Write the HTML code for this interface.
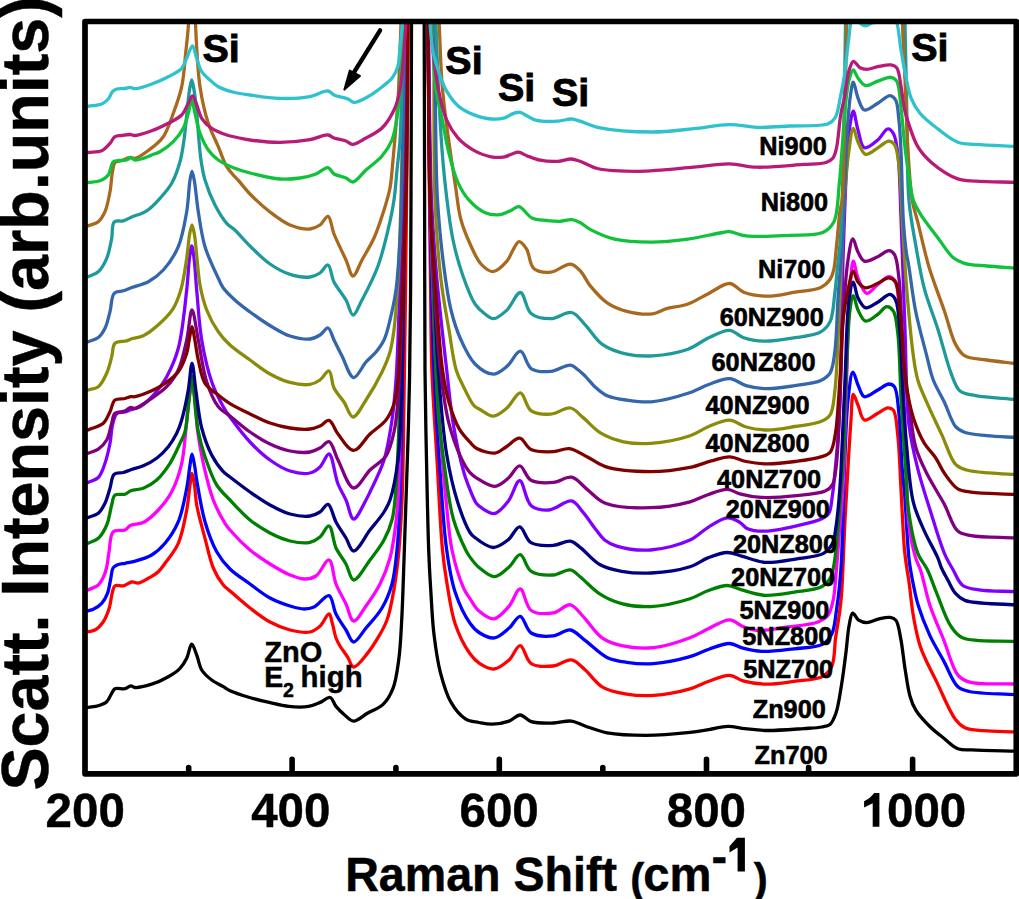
<!DOCTYPE html><html><head><meta charset="utf-8"><style>html,body{margin:0;padding:0;background:#fff;overflow:hidden}svg{display:block}text{stroke:#000;stroke-width:0.45px}</style></head><body>
<svg width="1019" height="899" viewBox="0 0 1019 899">
<rect width="1019" height="899" fill="#fff"/>
<defs><clipPath id="pc"><rect x="85" y="21.5" width="931" height="752"/></clipPath></defs>
<g clip-path="url(#pc)" fill="none" stroke-width="3.3" stroke-linejoin="round" stroke-linecap="round">
<path stroke="#000000" d="M88.0,707.5C91.4,706.9 95.1,706.8 98.3,705.8C101.3,704.8 104.5,703.7 106.7,701.7C109.0,699.6 110.2,695.7 111.7,693.3C112.9,691.5 113.3,689.6 115.0,688.7C117.3,687.5 122.2,689.4 125.0,688.7C127.3,688.2 129.0,685.9 130.8,685.8C132.3,685.7 133.1,687.3 135.0,687.5C138.7,687.9 146.2,685.9 151.7,684.2C157.3,682.4 163.4,679.5 168.3,676.7C172.7,674.2 176.9,671.5 180.0,668.3C182.9,665.3 184.8,662.1 186.7,658.3C188.8,654.1 189.9,644.3 191.7,644.2C193.3,644.1 195.1,651.1 196.7,655.0C198.5,659.5 199.1,665.8 201.7,670.0C204.2,674.0 208.0,677.2 211.7,680.0C215.3,682.7 220.0,684.7 223.3,686.7C225.8,688.2 227.1,689.3 230.0,690.7C234.7,692.9 243.0,695.5 249.6,697.5C256.1,699.4 262.7,700.9 269.3,702.4C275.8,703.9 282.3,705.7 288.9,706.4C295.4,707.1 302.9,707.3 308.5,706.4C313.0,705.7 316.6,703.9 320.3,702.4C323.8,701.0 327.5,696.8 330.1,697.5C332.7,698.2 333.7,703.6 336.0,706.4C338.3,709.2 340.9,711.8 343.8,714.2C346.8,716.7 350.0,720.9 353.6,721.1C357.8,721.3 362.6,715.9 367.4,713.2C372.5,710.3 378.9,708.4 383.1,704.4C387.4,700.3 390.4,695.0 392.9,688.7C396.1,680.7 397.4,669.9 398.8,659.3C400.5,647.2 400.9,634.5 401.7,620.0C402.7,602.1 403.3,580.0 404.0,560.0C404.7,540.0 405.3,520.0 406.0,500.0C406.7,480.0 407.4,460.0 408.0,440.0C408.6,420.0 409.1,401.4 409.5,380.0C410.0,355.2 410.3,328.2 410.5,300.0C410.8,268.5 410.9,238.0 411.0,200.0C411.2,149.6 411.4,59.8 411.5,24.0C411.5,8.3 411.5,1.3 411.5,-10.0M424.0,-10.0C424.1,1.3 424.1,8.3 424.2,24.0C424.3,59.8 424.5,141.8 424.6,200.0C424.7,257.2 424.5,322.3 425.0,370.0C425.3,404.7 425.9,430.0 426.5,460.0C427.1,490.0 427.8,525.6 428.7,550.0C429.3,566.7 430.0,578.2 430.9,592.3C431.8,606.4 432.3,620.9 434.0,634.6C435.6,647.6 437.4,660.8 440.4,672.6C443.2,683.2 446.1,694.1 450.9,702.2C454.9,709.1 460.4,715.8 465.7,719.1C469.9,721.7 474.6,721.6 479.0,722.5C483.3,723.3 487.4,724.3 492.0,724.2C497.3,724.1 504.1,722.9 509.1,721.1C513.3,719.6 516.5,714.9 520.2,715.0C523.9,715.1 526.7,720.2 531.2,721.6C537.1,723.4 546.2,723.1 553.2,723.0C559.6,722.9 565.9,720.4 571.5,721.1C576.4,721.7 579.9,724.3 585.0,726.0C591.4,728.2 598.5,731.2 607.0,732.8C618.1,734.8 632.8,735.3 646.2,735.3C660.4,735.3 678.4,733.6 690.0,732.4C697.6,731.6 702.6,730.6 708.9,729.6C715.2,728.6 721.7,726.4 727.8,726.3C733.6,726.2 738.8,727.9 744.8,728.6C751.4,729.3 757.6,730.3 765.6,730.5C776.3,730.7 793.1,729.3 803.5,728.6C810.8,728.1 817.1,728.0 822.0,727.0C825.3,726.4 827.8,726.3 830.0,724.5C832.7,722.2 834.3,717.8 836.0,713.0C838.5,705.8 839.9,694.7 841.5,685.0C843.2,674.5 844.7,662.5 846.0,652.0C847.2,642.6 847.7,632.1 849.2,625.0C850.2,620.2 850.9,613.6 852.7,613.2C854.2,612.9 856.2,618.6 858.6,620.2C860.9,621.7 863.8,622.6 866.7,622.6C870.2,622.6 874.5,620.0 878.4,619.1C882.3,618.2 886.9,616.9 890.1,617.4C892.4,617.8 894.3,618.3 895.9,620.2C898.5,623.4 899.2,631.0 900.6,637.8C902.5,647.0 903.6,660.3 905.3,670.5C906.8,679.6 907.9,689.0 910.0,696.2C911.6,701.7 913.0,705.6 915.8,710.2C919.2,715.7 924.9,721.7 929.8,726.5C934.3,730.9 939.1,734.5 943.8,738.2C948.4,741.9 952.9,746.8 957.9,748.7C962.3,750.4 965.9,749.6 971.9,749.9C982.5,750.5 1001.3,750.8 1016.0,751.2"/>
<path stroke="#FF0000" d="M88.0,631.7C90.3,631.1 92.7,631.3 95.0,630.0C97.9,628.4 101.0,625.0 103.3,621.7C105.9,618.0 107.7,613.1 109.2,608.3C110.8,603.1 111.2,595.8 112.5,591.7C113.3,589.2 113.4,586.8 115.0,585.8C116.8,584.6 120.6,586.4 123.3,585.8C126.2,585.2 129.0,582.4 131.7,582.0C134.0,581.7 135.9,583.3 138.3,583.0C141.4,582.6 145.0,580.1 148.3,578.3C151.7,576.4 155.5,574.3 158.3,571.7C161.0,569.2 162.5,566.8 165.0,563.3C168.8,558.1 174.8,551.2 178.3,543.3C182.5,533.9 184.7,520.4 186.7,510.0C188.4,501.1 189.0,491.8 190.0,485.0C190.7,480.4 191.3,473.3 192.0,473.3C192.8,473.3 193.8,480.6 194.5,485.0C195.4,490.8 195.4,497.5 196.7,505.0C198.4,514.7 202.2,527.5 205.0,538.3C207.7,548.5 209.8,559.7 213.3,568.0C216.1,574.7 220.0,580.9 223.3,585.0C225.5,587.7 227.2,588.5 230.0,591.0C234.9,595.2 243.2,602.8 250.0,608.0C256.6,613.1 263.1,618.3 270.0,622.0C276.5,625.5 283.2,628.3 290.0,630.0C296.6,631.6 304.6,633.2 310.0,632.0C314.2,631.1 317.3,628.7 320.3,625.9C323.7,622.8 326.9,613.7 329.0,614.0C330.8,614.3 331.4,620.4 332.5,624.0C333.8,628.2 334.5,634.0 336.0,638.0C337.2,641.1 338.3,643.2 340.0,646.0C342.1,649.5 345.4,653.6 347.8,657.3C349.9,660.6 351.0,666.7 353.6,667.0C357.0,667.4 363.2,658.5 367.4,653.4C371.8,648.1 375.8,641.5 379.2,635.7C382.3,630.4 384.9,625.7 387.0,620.0C389.3,613.8 390.4,607.9 392.0,600.0C394.2,589.0 396.4,574.7 398.0,560.0C399.9,542.1 401.0,522.6 402.0,500.0C403.3,470.9 403.4,436.7 404.0,400.0C404.7,355.1 405.4,300.0 406.0,250.0C406.6,200.0 407.2,141.6 407.5,100.0C407.7,70.4 407.8,44.3 408.0,24.0C408.1,10.4 408.3,1.3 408.5,-10.0M427.5,-10.0C427.7,1.3 427.8,8.3 428.0,24.0C428.4,59.8 429.0,152.8 429.5,200.0C429.8,231.9 430.1,252.5 430.5,280.0C430.9,309.1 430.8,340.0 431.9,370.0C433.0,400.0 435.2,430.0 437.0,460.0C438.8,490.0 440.3,527.7 442.5,550.0C443.8,563.3 444.8,570.4 446.7,581.7C448.9,594.8 450.9,611.4 455.2,624.0C459.0,635.1 465.0,646.8 470.0,653.8C473.2,658.3 475.9,661.1 479.8,663.6C483.9,666.2 489.3,669.4 494.0,669.0C499.1,668.5 504.7,663.8 509.1,659.9C513.5,656.0 516.6,645.5 520.2,645.7C524.0,645.9 525.8,660.2 531.2,663.6C536.7,667.1 546.3,666.7 553.2,666.0C559.7,665.3 566.1,659.1 571.5,659.9C576.6,660.7 580.4,665.8 585.0,669.7C590.5,674.4 595.3,682.7 602.1,686.8C609.1,691.0 618.2,692.7 626.6,694.1C635.3,695.6 643.9,696.0 653.5,695.4C664.8,694.7 679.9,691.8 690.0,688.9C697.5,686.8 702.4,683.5 708.9,681.3C715.6,679.0 723.6,674.9 729.7,675.3C734.7,675.6 737.9,679.5 743.0,680.9C749.4,682.7 757.6,684.0 765.6,684.2C774.5,684.4 784.6,682.6 794.0,681.3C803.5,680.0 815.9,680.2 822.4,676.6C827.0,674.1 829.6,671.0 831.8,666.2C835.0,659.4 834.3,646.9 835.6,637.8C836.8,629.2 838.5,620.6 839.5,613.0C840.4,606.5 840.9,603.1 841.5,595.0C842.8,578.6 843.8,543.6 845.0,520.0C846.1,498.9 847.3,478.0 848.4,460.0C849.3,445.3 850.1,431.8 851.0,420.0C851.7,410.5 851.6,394.7 853.3,394.4C854.4,394.2 856.3,401.2 858.0,405.0C860.0,409.6 861.0,418.7 864.4,420.0C867.7,421.2 873.7,415.5 877.8,413.3C881.4,411.4 884.9,408.0 887.8,407.8C889.9,407.7 891.8,408.2 893.3,410.0C896.4,413.8 896.6,425.4 897.8,435.6C899.5,450.5 900.0,472.3 901.1,491.1C902.2,510.4 903.2,536.0 904.5,550.0C905.2,557.7 906.0,562.4 906.8,568.0C907.5,573.0 908.2,576.3 909.0,582.0C910.3,591.0 911.5,605.6 913.5,616.7C915.4,627.2 917.0,636.8 920.5,647.1C924.4,658.6 931.1,670.3 936.8,682.1C942.7,694.4 949.6,711.9 955.5,719.5C958.7,723.7 960.9,725.8 964.9,727.7C969.8,730.0 976.5,730.0 983.6,730.7C992.9,731.6 1005.2,731.4 1016.0,731.8"/>
<path stroke="#0000FF" d="M88.0,610.8C89.8,610.3 91.4,610.1 93.3,609.2C95.9,607.9 99.4,605.8 101.7,603.3C104.2,600.6 106.0,597.1 107.5,593.3C109.2,588.9 109.8,582.8 110.8,578.3C111.6,574.5 111.6,570.3 113.0,568.0C114.0,566.4 115.3,565.8 117.0,565.0C119.1,564.0 122.3,563.8 125.0,563.3C127.7,562.7 130.0,562.6 133.3,561.7C138.3,560.3 146.3,558.2 151.7,555.0C156.8,552.0 160.9,548.2 165.0,543.3C169.9,537.5 174.8,530.0 178.3,521.7C182.4,512.0 184.7,498.5 186.7,488.3C188.3,479.9 189.0,471.3 190.0,465.0C190.7,460.7 191.3,454.2 192.0,454.2C192.8,454.2 193.8,461.1 194.5,465.0C195.4,469.6 195.6,473.8 196.7,480.0C198.5,490.4 201.3,509.1 205.0,521.7C208.2,532.7 212.0,543.3 216.7,551.7C220.6,558.6 224.7,563.8 230.0,569.0C235.7,574.6 243.3,579.1 250.0,584.0C256.6,588.8 263.1,594.3 270.0,598.0C276.5,601.5 283.9,604.1 290.0,606.0C295.0,607.5 299.7,609.0 304.0,609.0C307.6,609.0 310.5,608.6 314.0,607.0C318.7,604.9 325.3,594.6 329.0,595.6C332.7,596.7 333.1,608.2 336.0,614.0C338.8,619.7 342.9,625.1 346.0,630.0C348.7,634.3 350.6,641.8 353.6,642.0C357.1,642.3 361.7,633.1 366.0,628.0C371.1,622.0 377.7,615.3 382.0,608.0C386.4,600.6 389.5,592.9 392.0,584.0C394.8,573.8 395.7,562.5 397.0,550.0C398.6,535.0 399.2,519.5 400.0,500.0C401.1,472.4 401.4,436.7 402.0,400.0C402.7,355.1 403.3,300.0 404.0,250.0C404.7,200.0 405.4,141.6 406.0,100.0C406.4,70.4 406.7,44.3 407.0,24.0C407.2,10.4 407.3,1.3 407.5,-10.0M427.5,-10.0C427.7,1.3 427.8,8.3 428.0,24.0C428.4,59.8 429.1,152.8 429.8,200.0C430.3,231.9 430.8,252.5 431.5,280.0C432.2,309.1 432.6,339.2 434.0,370.0C435.4,402.5 437.7,438.5 440.0,470.0C442.0,498.2 443.5,527.6 446.7,550.0C449.0,566.4 450.9,579.5 455.2,592.3C459.0,603.7 464.9,616.1 470.0,623.2C473.2,627.7 475.9,630.6 479.8,633.0C484.0,635.6 489.8,638.5 494.5,637.9C499.5,637.2 504.7,631.8 509.1,628.1C513.3,624.6 516.7,616.0 520.2,616.3C524.1,616.6 525.9,629.7 531.2,633.0C536.8,636.5 546.4,636.6 553.2,635.9C559.3,635.3 565.0,629.3 570.3,630.0C575.6,630.7 579.7,636.4 585.0,640.3C591.7,645.2 599.5,653.7 607.0,657.4C613.4,660.5 619.5,661.3 626.6,662.3C634.8,663.5 643.9,664.3 653.5,663.6C664.8,662.8 679.9,659.6 690.0,656.7C697.4,654.5 702.4,651.4 708.9,649.2C715.6,647.0 723.6,643.3 729.7,643.5C734.7,643.7 738.1,646.9 743.0,648.2C748.7,649.7 754.7,651.1 761.9,651.4C771.2,651.8 783.6,650.0 794.0,648.8C803.8,647.6 815.9,647.9 822.4,644.4C827.0,641.9 829.5,638.6 831.8,634.0C834.8,627.9 835.2,618.1 836.5,610.0C837.8,601.8 838.8,593.3 839.6,585.0C840.4,576.7 840.9,571.1 841.5,560.0C842.7,537.8 843.5,489.1 844.8,460.0C845.8,437.5 846.2,416.2 848.0,400.0C849.3,388.9 850.8,372.4 852.9,372.2C854.4,372.0 856.1,380.9 858.0,385.0C859.9,389.0 861.3,395.7 864.4,396.7C867.7,397.7 873.6,392.2 877.8,390.0C881.7,388.0 885.8,384.1 888.9,384.0C891.0,384.0 892.9,384.7 894.4,386.7C897.5,390.8 897.7,402.8 898.9,413.3C900.6,428.4 901.1,454.6 902.2,468.9C902.9,478.0 903.6,481.7 904.4,491.1C905.8,507.4 907.3,542.8 908.9,557.8C909.7,565.4 910.3,568.5 911.5,575.0C913.1,583.6 915.1,595.1 918.1,605.0C921.2,615.2 925.4,625.8 929.8,635.4C934.0,644.5 939.1,652.5 943.8,661.1C948.5,669.7 952.5,682.0 957.9,686.8C961.5,690.0 964.2,690.3 969.5,691.5C979.7,693.9 1000.5,693.6 1016.0,694.7"/>
<path stroke="#FF00FF" d="M88.0,590.0C91.4,588.3 95.7,587.2 98.3,585.0C100.5,583.1 101.7,580.6 103.0,578.0C104.5,575.0 105.6,571.8 106.5,568.0C107.7,563.3 108.0,557.6 109.0,552.0C110.2,545.6 109.7,535.0 113.3,531.7C116.0,529.2 121.9,531.3 125.0,530.0C127.4,528.9 128.3,526.5 130.8,525.3C134.0,523.7 139.2,524.5 143.3,522.5C148.4,520.0 153.7,514.9 158.3,510.0C163.2,504.7 168.0,498.8 171.7,491.7C176.0,483.5 179.4,473.3 181.7,463.3C184.2,452.8 184.6,440.8 185.8,430.0C187.0,419.7 187.7,408.3 189.0,400.0C189.9,394.1 191.0,385.0 192.0,385.0C193.0,385.0 194.2,394.1 195.0,400.0C196.2,408.3 196.2,419.8 197.5,430.0C198.9,440.8 200.8,452.0 203.3,463.3C206.0,475.3 209.2,489.3 213.3,500.0C216.7,508.8 221.7,518.0 225.0,523.3C226.9,526.3 227.6,527.3 230.0,530.0C234.3,535.0 243.1,544.2 250.0,550.0C256.4,555.4 263.2,559.8 270.0,564.0C276.6,568.1 283.8,572.4 290.0,575.0C295.0,577.0 299.5,578.9 304.0,579.0C308.1,579.1 312.3,578.4 316.0,576.0C320.8,572.9 325.7,559.3 329.0,560.0C332.6,560.7 333.1,576.5 336.0,584.0C338.8,591.1 343.0,597.6 346.0,604.0C348.8,609.9 350.3,620.6 353.6,621.0C357.0,621.5 361.9,611.6 366.0,606.0C370.7,599.5 376.0,591.9 380.0,584.0C384.1,575.9 387.5,567.0 390.0,558.0C392.5,549.0 393.7,539.5 395.0,530.0C396.4,520.2 397.2,512.9 398.0,500.0C399.5,476.4 400.1,436.7 401.0,400.0C402.1,355.1 403.2,300.0 404.0,250.0C404.8,200.0 405.4,141.6 406.0,100.0C406.4,70.4 406.7,44.3 407.0,24.0C407.2,10.4 407.3,1.3 407.5,-10.0M427.5,-10.0C427.7,1.3 427.8,8.3 428.0,24.0C428.5,59.8 429.0,152.8 430.0,200.0C430.7,231.9 431.5,252.6 432.5,280.0C433.5,309.1 434.7,343.0 436.1,370.0C437.3,392.0 438.4,409.2 440.0,430.0C441.7,452.4 443.8,478.6 446.0,500.0C447.9,518.1 448.8,534.6 452.0,550.0C454.9,563.7 459.8,579.5 463.6,588.1C465.7,592.9 467.6,595.1 470.0,598.7C472.7,602.7 475.1,607.7 479.0,611.0C483.1,614.5 489.2,619.3 494.0,618.8C499.2,618.2 504.8,611.0 509.1,606.1C513.5,601.1 516.7,588.7 520.2,588.9C524.1,589.1 525.5,606.6 531.2,610.5C536.7,614.3 546.5,614.0 553.2,612.9C559.4,611.9 565.3,604.1 570.3,604.8C575.0,605.5 578.2,611.4 582.6,615.9C588.5,621.9 594.9,632.9 602.1,637.9C608.2,642.2 614.2,644.0 621.7,645.7C630.9,647.8 642.6,648.8 653.5,647.7C665.3,646.5 680.0,641.6 690.0,637.8C697.5,635.0 702.4,631.3 708.9,628.4C715.6,625.4 723.6,619.7 729.7,619.9C734.7,620.1 738.5,624.8 743.0,626.5C747.3,628.2 750.9,629.8 756.2,630.3C763.8,631.0 774.7,628.7 784.6,627.4C795.4,625.9 811.0,624.8 818.6,621.7C823.0,619.9 825.7,618.3 828.1,615.1C830.9,611.4 831.9,605.7 833.2,600.0C834.8,592.9 835.0,585.0 835.9,575.7C837.1,563.1 838.3,546.0 839.5,531.2C840.7,516.4 842.0,504.0 843.0,486.7C844.4,462.6 844.9,430.6 846.0,400.0C847.2,365.5 848.1,314.8 850.0,290.0C851.0,277.2 851.7,261.2 853.3,261.1C854.6,261.0 855.8,272.6 858.0,278.0C860.2,283.4 863.2,292.6 866.7,293.3C869.9,293.9 874.1,287.2 877.8,284.4C881.5,281.7 885.8,276.7 888.9,276.7C891.2,276.7 893.4,278.5 895.0,281.0C897.8,285.5 897.9,294.7 899.0,305.0C901.0,323.0 901.8,355.4 903.0,380.0C904.1,403.7 905.0,426.3 906.0,450.0C907.0,474.4 906.5,504.6 908.9,524.4C910.5,537.8 913.1,549.5 915.6,557.8C917.1,563.0 918.8,564.8 920.5,570.0C923.4,578.6 926.0,593.4 929.8,605.0C933.7,616.8 939.1,628.4 943.8,640.1C948.5,651.8 952.1,668.3 957.9,675.1C961.4,679.2 964.1,680.5 969.5,682.1C979.6,685.1 1000.5,683.4 1016.0,684.0"/>
<path stroke="#008000" d="M88.0,543.3C91.4,541.6 95.3,540.9 98.3,538.3C101.8,535.2 104.5,530.1 106.7,525.0C109.2,519.2 110.1,510.5 111.7,505.0C112.8,501.1 112.7,496.8 115.0,495.0C117.2,493.3 122.2,495.1 125.0,494.2C127.3,493.5 128.4,491.7 130.8,490.8C134.1,489.5 139.2,489.9 143.3,488.3C147.9,486.5 152.5,483.7 156.7,480.0C161.5,475.7 166.1,469.3 170.0,463.3C173.9,457.1 177.3,449.1 180.0,443.3C182.0,438.9 183.7,436.3 185.0,431.7C186.7,425.7 187.0,418.1 188.0,410.0C189.3,399.9 190.7,375.8 192.0,375.8C193.2,375.8 194.3,399.9 195.5,410.0C196.4,418.1 196.8,424.3 198.3,431.7C199.9,439.8 202.1,448.2 205.0,456.7C208.1,465.9 211.9,477.4 216.7,485.0C220.6,491.2 225.0,494.7 230.0,500.0C235.9,506.3 243.0,514.3 250.0,520.0C256.4,525.2 263.2,529.4 270.0,533.0C276.5,536.4 283.2,539.4 290.0,541.0C296.6,542.5 304.6,543.6 310.0,542.4C314.1,541.5 317.0,539.5 320.0,537.0C323.4,534.2 326.5,525.5 329.0,526.0C332.2,526.6 333.0,541.4 336.0,548.0C338.8,553.9 343.0,558.6 346.0,564.0C348.9,569.3 350.2,579.6 353.6,580.0C357.8,580.5 364.9,566.8 370.0,560.0C375.0,553.4 380.3,546.9 384.0,540.0C387.5,533.5 390.2,526.8 392.0,520.0C393.8,513.4 394.1,508.2 395.0,500.0C396.4,487.1 397.1,469.5 398.0,450.0C399.2,422.4 400.1,386.7 401.0,350.0C402.1,305.1 403.2,252.0 404.0,200.0C404.9,143.7 405.5,59.8 406.0,24.0C406.2,8.3 406.3,1.3 406.5,-10.0M427.5,-10.0C427.7,1.3 427.8,8.3 428.0,24.0C428.5,59.8 429.4,149.6 430.5,200.0C431.3,238.0 432.3,265.7 433.5,300.0C434.8,336.4 435.8,381.1 438.3,412.3C440.1,434.7 442.4,451.7 445.0,470.0C447.4,486.8 449.2,503.8 453.1,518.0C456.4,529.9 462.4,543.3 465.7,550.0C467.3,553.3 468.2,554.6 470.0,557.1C472.3,560.3 475.3,564.4 479.0,567.5C483.2,571.0 489.5,576.8 494.5,576.7C499.5,576.6 504.8,570.6 509.1,566.9C513.3,563.3 516.7,554.4 520.2,554.7C524.1,555.0 525.9,567.9 531.2,571.3C536.8,574.9 546.4,575.4 553.2,575.0C559.3,574.6 565.5,569.1 570.3,569.9C574.2,570.5 576.4,573.8 580.1,576.7C585.6,581.0 592.6,589.3 599.7,593.8C606.5,598.2 613.6,601.5 621.7,603.6C630.6,606.0 640.7,607.1 651.1,606.6C663.2,606.0 679.7,602.1 690.0,598.8C697.2,596.5 701.6,593.0 707.8,590.8C714.1,588.6 721.4,585.4 727.4,585.5C732.5,585.6 736.3,588.5 741.6,589.9C748.3,591.7 756.3,594.8 764.7,595.3C774.5,595.9 786.8,593.3 796.8,591.7C805.7,590.3 816.1,589.8 822.0,586.5C826.1,584.2 828.6,581.2 830.6,577.5C832.8,573.5 833.2,569.0 834.2,563.2C835.7,554.7 836.6,542.8 837.7,531.2C839.0,517.6 840.3,500.3 841.3,486.7C842.2,475.2 842.8,467.8 843.5,455.0C844.5,435.3 844.9,404.6 846.0,380.0C847.1,356.3 847.9,324.5 850.0,310.0C850.9,303.3 852.0,295.7 853.3,295.6C854.6,295.5 855.9,305.6 858.0,310.0C860.0,314.1 862.3,320.3 865.6,321.1C868.9,321.9 874.2,316.9 877.8,314.4C881.1,312.1 883.9,306.9 886.7,306.7C889.0,306.5 891.6,308.5 893.3,311.0C896.2,315.3 896.6,323.8 897.8,333.3C899.8,349.5 899.9,378.4 901.1,400.0C902.3,420.5 903.7,440.6 905.0,460.0C906.3,478.3 906.5,496.9 908.9,513.3C911.0,527.7 913.8,543.1 917.8,553.3C920.5,560.3 924.5,563.8 927.5,570.0C930.9,577.0 933.3,585.0 936.8,593.4C940.9,603.4 945.5,618.3 950.8,626.1C954.4,631.4 956.5,635.0 962.5,637.8C973.4,642.8 998.2,640.3 1016.0,641.5"/>
<path stroke="#000080" d="M88.0,517.5C91.4,516.1 95.5,515.6 98.3,513.3C101.2,510.9 103.1,507.1 105.0,503.3C107.1,498.9 108.4,493.2 110.0,488.3C111.5,483.5 111.4,476.7 114.2,474.2C116.4,472.2 120.4,473.3 123.3,472.5C126.0,471.8 128.0,470.7 130.8,469.7C134.4,468.5 139.2,467.6 143.3,465.8C147.8,463.9 152.6,461.4 156.7,458.3C160.9,455.1 164.9,450.9 168.3,446.7C171.6,442.6 174.4,437.9 176.7,433.3C178.8,429.0 180.1,425.4 181.7,420.0C184.0,412.1 186.6,399.7 188.3,390.0C189.9,380.9 190.8,363.3 192.0,363.3C193.3,363.3 194.4,380.3 195.8,390.0C197.5,401.6 198.7,416.5 201.7,428.0C204.3,437.9 207.7,447.3 211.7,455.0C215.1,461.5 219.7,467.9 223.3,471.7C225.6,474.2 227.2,474.8 230.0,477.0C234.9,480.8 243.3,487.3 250.0,492.0C256.6,496.6 263.2,501.3 270.0,505.0C276.5,508.6 283.2,512.2 290.0,514.0C296.5,515.7 304.6,516.8 310.0,516.0C314.0,515.4 317.0,513.9 320.0,512.0C323.0,510.1 325.6,503.9 328.0,504.4C331.2,505.0 333.0,516.4 336.0,522.0C339.0,527.6 342.9,532.9 346.0,538.0C348.7,542.5 350.4,550.8 353.6,551.0C357.9,551.3 364.8,536.7 370.0,530.0C374.9,523.8 380.5,517.6 384.0,512.0C386.7,507.7 388.2,505.3 390.0,500.0C393.2,490.7 396.0,475.7 398.0,460.0C400.7,438.0 401.0,409.9 402.0,380.0C403.2,341.9 403.4,294.9 404.0,250.0C404.7,201.8 405.6,141.6 406.0,100.0C406.3,70.4 406.3,44.3 406.5,24.0C406.6,10.4 406.8,1.3 407.0,-10.0M427.5,-10.0C427.7,1.3 427.8,8.3 428.0,24.0C428.5,59.8 429.1,152.8 430.5,200.0C431.4,231.9 432.7,252.5 434.0,280.0C435.3,309.1 436.1,340.5 438.3,370.0C440.4,398.7 442.8,430.7 446.7,454.6C449.6,472.5 453.0,487.3 457.3,501.1C461.0,512.8 466.4,526.9 470.0,532.5C471.5,534.9 472.1,535.4 474.2,537.0C478.1,540.0 487.1,547.4 493.0,547.5C498.2,547.6 503.6,543.4 508.0,540.0C512.5,536.5 516.0,526.7 519.7,526.9C523.6,527.1 525.7,539.6 531.0,542.7C536.7,546.1 546.3,545.8 553.2,545.4C559.3,545.0 565.5,540.4 570.3,541.2C574.2,541.8 576.4,544.6 580.1,547.3C585.7,551.4 592.5,560.5 599.7,564.5C606.5,568.3 613.7,569.9 621.7,571.3C630.7,572.9 640.6,573.5 651.1,573.0C663.2,572.4 679.7,570.1 690.0,566.8C697.3,564.5 701.6,560.3 707.8,557.9C714.1,555.5 721.4,552.6 727.4,552.5C732.5,552.4 736.3,554.7 741.6,556.1C748.4,557.9 756.3,561.7 764.7,562.3C774.5,563.1 786.6,560.4 796.8,558.8C806.1,557.3 817.3,556.9 823.5,553.4C827.8,551.0 830.3,547.6 832.4,543.6C834.7,539.2 834.9,533.4 835.9,527.6C837.0,520.7 837.7,513.4 838.5,505.0C839.5,494.6 840.2,484.4 841.0,470.0C842.3,447.0 843.6,409.1 845.0,380.0C846.3,352.5 846.5,317.0 849.0,300.0C850.2,291.9 851.8,282.2 853.3,282.2C854.8,282.2 855.7,293.5 858.0,298.0C860.0,301.9 862.4,307.0 865.6,307.8C868.9,308.6 873.8,304.4 877.8,302.2C881.9,299.9 886.8,294.1 890.0,294.4C892.4,294.7 894.1,297.0 895.6,300.0C898.7,306.2 898.8,320.3 900.0,333.3C901.7,351.7 902.1,379.7 903.3,400.0C904.3,417.0 905.1,430.5 906.7,446.7C908.4,464.4 909.5,486.9 913.3,502.2C916.1,513.6 920.3,521.8 924.4,531.1C928.5,540.3 934.8,550.9 937.8,557.8C939.6,561.9 940.0,564.5 941.5,568.0C943.2,571.9 945.6,575.9 947.8,580.0C950.2,584.4 952.4,589.9 955.5,593.4C958.2,596.5 960.1,598.6 964.9,600.4C974.8,604.2 999.0,603.5 1016.0,605.0"/>
<path stroke="#8000FF" d="M88.0,482.5C91.4,480.8 95.6,480.3 98.3,477.5C101.5,474.3 103.1,468.5 105.0,463.3C107.1,457.3 108.7,449.9 110.0,443.3C111.2,437.1 111.2,430.3 112.5,425.0C113.6,420.7 114.3,415.9 116.7,413.8C118.7,412.0 122.6,412.7 125.0,412.0C126.9,411.4 128.0,410.7 130.0,410.0C132.7,409.0 136.5,408.7 140.0,406.7C144.8,403.9 150.6,398.3 155.0,393.3C159.5,388.3 163.1,383.2 166.7,376.7C171.1,368.7 175.2,359.7 178.3,348.3C182.6,332.5 184.8,306.6 186.7,290.0C188.1,277.8 188.4,266.1 189.5,258.0C190.2,253.0 191.0,245.8 191.7,245.8C192.5,245.8 193.3,252.9 194.0,258.0C195.1,266.1 195.6,278.2 196.7,290.0C198.1,304.8 199.0,324.2 201.7,340.0C204.2,354.6 207.5,369.7 211.7,381.7C215.0,391.3 219.7,400.3 223.3,406.7C225.7,411.0 227.0,412.9 230.0,417.0C234.8,423.6 243.0,434.6 250.0,442.0C256.4,448.8 263.0,455.1 270.0,460.0C276.4,464.6 283.1,468.9 290.0,471.0C296.5,473.0 304.6,474.2 310.0,473.0C314.1,472.1 317.0,469.8 320.0,467.0C323.5,463.7 326.4,453.6 329.0,454.0C332.7,454.6 334.7,475.7 338.0,484.0C340.5,490.3 343.5,494.4 346.0,500.0C348.7,506.0 350.4,518.7 353.6,519.0C357.0,519.3 363.1,505.1 366.0,500.0C367.8,496.8 368.3,495.6 370.0,492.0C373.3,484.9 380.4,471.5 384.0,460.0C387.9,447.6 390.0,433.4 392.0,420.0C394.0,406.7 395.0,393.3 396.0,380.0C397.0,366.7 397.3,356.0 398.0,340.0C399.0,316.0 400.2,280.8 401.0,250.0C401.9,217.5 402.4,185.3 403.0,150.0C403.7,110.4 404.6,52.7 405.0,24.0C405.2,9.1 405.3,1.3 405.5,-10.0M428.0,-10.0C428.2,1.3 428.3,8.3 428.5,24.0C429.1,59.8 429.5,152.8 431.5,200.0C432.9,231.9 434.6,252.6 437.0,280.0C439.6,309.1 443.7,344.0 446.7,370.0C449.0,390.0 450.2,405.7 453.1,422.9C455.9,439.5 460.1,459.3 463.6,471.5C465.7,479.1 467.7,484.0 470.0,489.6C472.0,494.5 474.0,500.0 476.3,503.2C477.9,505.3 479.1,506.3 481.3,507.7C484.5,509.8 490.3,514.2 494.5,513.5C499.3,512.7 504.4,506.0 508.4,500.9C512.9,495.2 516.1,480.5 519.7,480.6C523.6,480.8 525.3,500.6 531.0,505.4C535.7,509.3 542.7,510.4 549.0,510.0C556.2,509.5 565.7,499.7 571.6,500.9C576.4,501.9 579.1,507.8 582.9,512.2C587.4,517.4 592.4,525.3 596.4,530.3C599.4,534.1 601.3,537.4 604.6,540.0C608.0,542.7 611.5,544.5 616.7,546.1C625.0,548.6 638.9,550.8 650.6,550.0C663.3,549.2 679.8,544.8 690.0,540.1C697.5,536.7 701.6,531.3 707.8,527.6C714.0,523.9 721.5,518.1 727.4,517.8C731.9,517.5 736.4,520.3 739.8,522.3C742.7,524.0 743.8,527.0 747.0,528.5C751.4,530.5 757.9,531.3 764.7,531.2C773.8,531.1 786.8,528.1 796.8,525.8C805.7,523.8 816.1,521.5 821.7,518.7C825.0,517.1 827.1,516.1 828.8,513.4C831.3,509.5 831.3,502.5 832.4,495.6C833.8,486.2 834.9,473.1 835.9,462.0C836.9,451.2 837.8,441.9 838.5,430.0C839.4,415.2 839.9,400.3 840.5,380.0C841.5,348.6 841.8,298.2 843.0,260.0C844.1,225.1 845.4,184.8 847.0,160.0C847.9,145.3 848.6,134.0 850.0,125.0C850.9,119.3 852.1,111.1 853.3,111.1C854.7,111.1 856.1,123.8 858.0,130.0C859.8,136.1 860.8,146.5 864.4,147.8C867.7,149.0 873.9,143.2 877.8,140.0C881.7,136.9 884.9,129.1 887.8,128.9C889.8,128.7 891.8,130.9 893.3,133.3C895.8,137.3 896.6,144.6 897.8,153.3C899.9,169.0 900.0,195.0 901.1,220.0C902.5,252.1 903.6,294.7 905.0,330.0C906.3,362.7 905.8,398.9 908.9,424.4C911.0,442.1 914.1,454.2 917.8,468.9C921.5,483.8 926.6,498.9 931.1,513.3C935.4,527.0 940.0,543.0 944.4,553.3C947.3,560.2 950.1,564.6 953.2,570.0C956.2,575.2 958.1,581.9 962.5,585.2C966.8,588.4 972.3,588.8 978.9,589.9C988.7,591.5 1003.6,591.0 1016.0,591.6"/>
<path stroke="#800080" d="M88.0,453.3C91.4,451.9 95.3,451.3 98.3,449.2C101.5,447.0 104.5,443.8 106.7,440.0C109.3,435.5 110.2,428.1 111.7,423.3C112.9,419.5 112.8,415.3 115.0,413.3C117.2,411.3 122.3,412.2 125.0,411.0C127.1,410.1 128.2,407.9 130.0,407.5C131.6,407.1 132.9,408.7 135.0,408.3C139.0,407.5 146.4,401.9 151.7,398.3C156.9,394.7 162.3,391.3 166.7,386.7C171.2,381.9 175.2,376.7 178.3,370.0C182.2,361.7 184.4,350.1 186.7,340.0C189.0,330.1 190.1,310.0 192.0,310.0C193.9,310.0 196.1,329.2 198.3,340.0C200.9,352.8 202.8,369.8 206.7,381.7C209.8,391.3 213.6,400.7 218.3,406.7C221.8,411.1 225.6,412.5 230.0,416.0C235.8,420.6 243.2,427.3 250.0,432.0C256.5,436.5 263.2,440.8 270.0,444.0C276.5,447.1 283.2,449.7 290.0,451.0C296.6,452.3 304.6,452.9 310.0,452.0C314.0,451.3 316.9,449.7 320.0,448.0C323.2,446.3 326.3,440.9 329.0,441.6C332.6,442.5 334.5,453.3 338.0,460.0C342.4,468.4 347.8,487.3 353.6,488.0C358.6,488.6 364.4,475.5 370.0,470.0C375.2,464.9 382.0,461.9 386.0,456.0C390.3,449.5 392.0,440.7 394.0,432.0C396.2,422.2 396.9,412.4 398.0,400.0C399.5,383.1 400.2,362.0 401.0,340.0C402.0,313.0 402.3,280.8 403.0,250.0C403.7,217.5 404.4,185.3 405.0,150.0C405.6,110.4 406.1,52.7 406.5,24.0C406.7,9.1 406.8,1.3 407.0,-10.0M427.5,-10.0C427.7,1.3 427.8,8.3 428.0,24.0C428.5,59.8 429.0,149.6 430.5,200.0C431.6,238.0 433.1,269.6 435.0,300.0C436.6,325.4 437.8,348.3 440.4,370.0C442.6,388.9 444.8,407.1 448.8,422.9C452.2,436.2 457.2,449.8 461.5,458.8C464.3,464.7 467.1,469.4 470.0,472.7C472.1,475.0 473.5,476.1 476.3,477.8C480.7,480.5 489.2,486.6 494.8,486.3C499.8,486.0 504.3,481.4 508.4,478.0C512.6,474.6 516.0,465.7 519.7,465.9C523.6,466.1 525.8,477.4 531.0,480.2C536.8,483.3 546.5,483.0 553.5,482.4C559.9,481.8 566.0,476.1 571.6,477.2C577.4,478.3 581.9,485.4 587.4,489.6C593.2,494.1 597.5,500.1 605.4,503.2C616.6,507.6 636.1,508.1 650.6,507.7C664.2,507.4 679.6,504.6 690.0,501.8C697.2,499.8 701.7,496.7 707.8,494.7C714.1,492.6 721.6,489.2 727.4,489.4C732.0,489.6 735.0,492.6 739.8,493.8C745.9,495.4 753.1,496.9 761.2,497.4C771.5,498.0 785.6,496.8 796.8,495.6C806.9,494.6 819.2,493.9 825.3,491.1C828.8,489.5 830.7,487.8 832.4,484.9C834.7,481.1 835.0,474.7 835.9,468.9C836.9,462.1 837.2,455.5 837.8,446.7C838.6,434.0 839.3,417.7 840.0,400.0C841.0,376.9 841.5,344.7 843.0,320.0C844.3,298.5 845.7,274.8 848.0,260.0C849.4,251.1 851.0,239.0 852.9,238.9C854.4,238.8 855.9,248.1 858.0,252.0C859.8,255.4 861.4,260.1 864.4,261.1C867.8,262.2 873.6,258.5 877.8,256.7C881.8,255.0 885.9,250.6 888.9,250.7C891.1,250.8 892.9,252.2 894.4,254.4C897.2,258.6 897.7,268.3 898.9,277.8C900.7,292.3 901.1,315.6 902.2,333.3C903.2,349.5 903.5,367.3 905.0,380.0C906.0,388.8 907.5,393.5 908.9,402.2C910.9,414.5 912.0,434.0 915.6,446.7C918.4,456.9 922.2,464.2 926.7,473.3C931.7,483.4 939.0,494.4 944.4,504.4C949.3,513.6 952.1,526.2 957.8,531.1C961.7,534.5 965.3,534.5 971.1,535.6C981.6,537.6 1001.0,537.2 1016.0,538.0"/>
<path stroke="#800000" d="M88.0,430.0C93.1,427.8 99.6,426.6 103.3,423.3C106.6,420.3 108.0,415.6 110.0,411.7C111.9,407.9 112.2,402.1 115.0,400.0C117.5,398.1 122.1,399.2 125.0,398.5C127.2,398.0 129.0,397.0 130.8,396.7C132.3,396.5 133.2,397.0 135.0,396.7C138.8,396.1 146.5,393.1 151.7,390.8C156.5,388.6 160.7,386.3 165.0,383.3C169.6,380.0 174.7,376.5 178.3,371.7C182.1,366.6 184.8,359.3 186.7,353.3C188.3,348.1 188.5,342.7 189.5,338.0C190.3,333.9 191.2,326.7 192.0,326.7C192.8,326.7 193.6,333.6 194.5,338.0C195.7,344.1 196.6,352.6 198.3,360.0C200.1,367.7 201.2,377.3 205.0,383.3C208.3,388.5 213.9,391.5 218.3,395.0C222.3,398.2 225.5,400.8 230.0,403.6C235.7,407.1 243.3,410.7 250.0,414.0C256.6,417.2 263.2,420.7 270.0,423.0C276.6,425.3 283.3,427.0 290.0,428.0C296.6,429.0 304.5,429.7 310.0,429.0C314.0,428.5 316.8,427.4 320.0,426.0C323.2,424.6 326.3,419.8 329.0,420.4C332.4,421.1 334.4,429.4 338.0,434.0C342.3,439.4 348.3,450.3 353.6,450.4C359.0,450.5 364.5,439.2 370.0,434.0C375.3,429.1 381.9,425.3 386.0,420.0C389.7,415.2 392.0,410.0 394.0,404.0C396.3,397.0 397.0,389.0 398.0,380.0C399.3,368.4 399.3,354.7 400.0,340.0C400.9,322.0 402.1,301.4 403.0,280.0C404.1,255.3 405.3,228.2 406.0,200.0C406.8,168.5 407.2,131.1 407.5,100.0C407.8,72.9 407.8,44.3 408.0,24.0C408.1,10.4 408.3,1.3 408.5,-10.0M427.5,-10.0C427.7,1.3 427.8,8.3 428.0,24.0C428.5,59.8 428.3,152.8 430.0,200.0C431.2,231.9 433.0,252.6 435.0,280.0C437.1,309.1 439.4,347.7 442.5,370.0C444.4,383.3 445.9,391.6 448.8,401.7C451.6,411.3 455.2,422.0 459.4,429.2C462.6,434.6 466.8,438.8 470.0,442.2C472.3,444.7 473.4,446.6 476.3,448.2C480.6,450.6 489.5,453.7 494.8,453.1C499.1,452.6 502.1,449.3 506.0,447.0C510.4,444.4 515.5,437.7 519.7,438.2C523.8,438.6 526.1,447.2 531.0,449.5C536.9,452.3 546.7,452.0 553.5,451.7C559.3,451.4 564.0,448.0 569.3,448.6C575.2,449.3 581.4,453.9 587.4,456.9C593.5,459.9 597.8,464.2 605.4,466.6C616.8,470.2 636.0,471.6 650.6,471.6C664.2,471.6 678.9,469.6 690.0,467.4C698.3,465.7 704.5,462.7 711.4,460.9C717.7,459.3 723.8,456.7 729.7,456.9C735.3,457.1 740.2,460.4 746.1,461.5C752.6,462.8 759.6,463.8 767.1,463.9C775.8,464.0 786.0,462.7 795.1,461.5C803.9,460.3 814.5,459.0 820.8,456.9C824.8,455.6 827.8,455.1 830.2,452.2C833.4,448.3 834.2,440.3 835.5,433.0C837.2,423.5 837.7,410.7 838.5,400.0C839.3,389.8 839.8,381.3 840.5,370.0C841.3,355.5 841.4,334.5 843.0,320.0C844.2,308.7 846.0,298.8 848.0,290.0C849.6,282.9 851.4,271.2 853.3,271.1C854.8,271.0 855.8,279.1 858.0,282.0C860.0,284.6 862.6,287.4 865.6,287.8C869.1,288.3 873.9,285.0 877.8,283.3C881.6,281.6 885.7,277.6 888.9,277.8C891.5,278.0 893.9,279.5 895.6,282.2C898.9,287.3 898.7,299.8 900.0,311.0C901.8,326.5 902.7,350.5 904.4,366.7C905.7,379.2 906.8,389.8 908.9,400.0C910.7,408.8 912.8,416.9 915.6,424.4C918.1,431.2 920.9,437.6 924.4,443.3C927.7,448.7 932.2,452.8 935.6,457.8C938.9,462.8 940.9,468.3 944.4,473.3C948.2,478.7 952.8,485.8 957.8,488.9C961.9,491.4 965.3,491.3 971.1,492.2C981.6,493.8 1001.0,493.7 1016.0,494.5"/>
<path stroke="#8B8B0A" d="M88.0,390.0C91.4,388.9 95.4,389.0 98.3,386.7C101.8,384.0 104.5,378.2 106.7,373.3C109.0,368.2 110.3,362.0 111.7,356.7C113.0,352.0 112.3,345.9 115.0,343.3C117.5,340.9 123.7,341.8 126.7,340.8C128.8,340.2 129.7,339.4 131.7,338.7C134.7,337.7 139.3,337.7 143.3,335.8C148.6,333.3 155.0,327.9 160.0,323.3C164.9,318.8 169.8,313.9 173.3,308.3C176.7,302.8 178.7,297.1 180.8,290.0C183.5,281.0 185.2,268.1 186.7,258.3C188.0,250.0 188.4,241.1 189.5,235.0C190.2,230.9 191.2,225.0 192.0,225.0C192.8,225.0 193.8,230.9 194.5,235.0C195.6,241.1 196.1,250.3 197.0,258.3C197.9,266.9 198.4,276.3 200.0,285.0C201.6,293.5 203.6,302.1 206.7,310.0C209.7,317.7 214.0,325.6 218.3,331.7C221.9,336.9 225.3,340.7 230.0,345.0C235.6,350.1 243.3,355.1 250.0,360.0C256.6,364.8 263.1,370.2 270.0,374.0C276.5,377.6 283.2,380.7 290.0,382.4C296.5,384.1 304.6,385.3 310.0,384.4C314.0,383.8 316.9,382.1 320.0,380.0C323.3,377.7 326.7,370.4 329.0,371.0C331.7,371.7 331.5,382.8 334.0,388.0C336.5,393.1 340.8,397.2 344.0,402.0C347.2,406.9 349.6,416.8 353.0,417.0C356.8,417.2 361.7,406.5 366.0,400.0C371.3,392.0 377.8,380.7 382.0,372.0C385.4,364.9 388.0,358.9 390.0,352.0C392.0,344.9 392.8,338.9 394.0,330.0C395.7,316.7 396.9,298.6 398.0,280.0C399.4,256.5 400.2,228.2 401.0,200.0C401.9,168.5 402.5,131.1 403.0,100.0C403.4,72.9 403.7,44.3 404.0,24.0C404.2,10.4 404.3,1.3 404.5,-10.0M433.5,-10.0C433.7,1.3 433.8,8.3 434.0,24.0C434.4,59.8 433.1,152.8 435.0,200.0C436.3,231.9 438.2,256.5 441.0,280.0C443.2,298.7 446.3,314.3 449.0,330.0C451.4,344.1 453.0,359.6 456.2,370.0C458.3,377.0 460.8,381.2 463.6,386.9C466.7,393.1 470.7,402.3 474.2,405.9C476.1,407.9 477.6,408.2 480.0,409.5C483.5,411.4 488.8,416.3 493.2,416.1C497.8,415.9 502.6,411.5 506.9,408.0C511.8,404.0 516.4,392.4 520.4,392.8C524.4,393.2 525.9,407.1 531.0,410.6C536.1,414.1 544.3,414.5 550.9,414.1C557.5,413.7 564.9,407.0 570.5,408.0C575.4,408.9 578.5,413.8 582.9,417.4C588.4,421.9 594.2,429.1 600.9,433.2C607.7,437.3 615.5,440.1 623.5,441.8C632.0,443.6 640.8,444.0 650.6,443.4C662.6,442.6 679.5,439.4 690.0,435.8C697.6,433.2 702.2,429.1 708.7,426.5C715.4,423.9 723.2,419.9 729.7,420.2C735.6,420.5 740.2,425.4 746.1,427.0C752.6,428.8 759.6,429.9 767.1,430.0C775.8,430.1 786.0,428.0 795.1,426.5C803.9,425.1 814.5,424.2 820.8,421.5C825.0,419.7 827.9,418.3 830.2,414.8C833.5,409.7 833.6,400.8 834.8,391.5C836.6,377.7 837.0,359.6 838.0,340.0C839.4,314.2 840.7,277.0 842.0,250.0C843.0,228.0 843.7,208.0 845.0,190.0C846.1,175.3 847.3,161.3 849.0,150.0C850.2,141.7 851.6,128.5 853.3,128.4C854.7,128.3 856.0,137.7 858.0,142.0C860.1,146.3 862.2,153.5 865.6,154.4C868.9,155.3 873.9,150.1 877.8,147.8C881.6,145.6 885.8,141.1 888.9,141.1C891.1,141.1 892.9,142.4 894.4,144.4C897.0,148.1 897.7,156.0 898.9,164.4C900.9,178.2 901.3,204.3 902.2,220.0C902.9,231.5 903.3,239.4 904.0,250.0C904.8,262.1 905.5,274.2 906.7,288.9C908.3,308.2 910.9,338.9 913.3,355.6C914.7,365.8 915.5,372.2 917.8,380.0C920.0,387.7 923.2,394.1 926.7,402.2C931.0,412.3 937.2,424.9 942.2,435.6C946.8,445.6 950.2,458.9 955.6,464.4C959.0,467.9 962.2,468.6 966.7,470.0C972.7,471.8 981.1,472.2 988.9,472.9C997.5,473.7 1007.0,474.0 1016.0,474.5"/>
<path stroke="#3466AC" d="M88.0,341.7C91.4,340.3 95.5,339.7 98.3,337.5C101.2,335.3 103.2,332.0 105.0,328.3C107.3,323.7 108.5,317.4 110.0,311.7C111.6,305.8 111.1,296.5 114.2,293.3C116.4,291.0 120.4,291.8 123.3,290.8C126.2,289.8 128.4,288.7 131.7,287.5C136.3,285.8 143.1,284.5 148.3,281.7C153.7,278.8 158.7,275.0 163.3,270.0C168.9,263.9 174.5,255.6 178.3,246.7C182.6,236.5 184.7,223.1 186.7,211.7C188.5,200.9 188.8,187.2 190.0,180.0C190.6,176.2 191.3,171.3 192.0,171.3C192.7,171.3 193.5,176.2 194.2,180.0C195.6,187.2 196.6,200.9 198.3,211.7C200.1,223.1 201.6,235.5 205.0,246.7C208.3,257.7 214.8,270.8 218.3,278.3C220.3,282.5 221.0,284.8 223.3,288.0C226.2,292.0 230.6,296.1 234.8,300.0C239.4,304.2 244.3,307.8 250.0,312.0C257.0,317.1 266.7,323.8 274.0,328.0C279.8,331.3 284.2,334.2 290.0,336.0C296.2,337.9 304.5,339.6 310.0,339.0C314.0,338.5 317.0,336.8 320.0,335.0C323.0,333.2 325.8,327.6 328.0,328.0C330.5,328.5 331.9,335.7 334.0,340.0C336.5,345.0 339.0,350.3 342.0,356.0C345.5,362.7 349.4,377.2 353.6,377.6C357.4,377.9 362.0,366.5 366.0,362.0C369.4,358.2 373.0,355.6 376.0,352.0C379.0,348.3 381.8,344.7 384.0,340.0C386.7,334.3 388.2,327.4 390.0,320.0C392.2,311.1 394.4,301.3 396.0,290.0C398.0,275.5 399.0,257.4 400.0,240.0C401.1,220.9 401.4,201.4 402.0,180.0C402.6,155.3 403.1,126.3 403.5,100.0C403.9,74.3 404.2,44.3 404.5,24.0C404.7,10.4 404.8,1.3 405.0,-10.0M434.0,-10.0C434.2,1.3 434.3,9.1 434.5,24.0C434.9,52.7 435.3,117.5 436.0,150.0C436.4,170.5 436.4,182.6 437.5,200.0C438.7,219.1 440.6,240.9 443.0,260.0C445.2,277.5 447.5,295.6 451.0,310.0C453.8,321.4 456.8,330.8 461.0,340.0C464.9,348.7 469.1,358.2 475.0,364.0C480.1,369.0 487.6,374.2 493.2,374.2C498.1,374.2 502.6,369.9 506.9,366.4C511.8,362.5 516.3,350.9 520.4,351.2C524.5,351.5 526.2,365.5 531.4,368.8C536.5,372.0 544.5,371.9 550.9,371.3C557.5,370.7 565.5,364.5 570.5,365.1C573.8,365.5 575.9,368.2 578.4,370.0C580.8,371.8 582.7,373.7 585.2,376.1C588.5,379.4 592.5,384.7 596.4,388.1C599.9,391.1 602.8,393.8 607.2,395.7C612.6,398.1 619.9,399.1 626.8,400.1C634.5,401.2 642.4,402.5 651.3,401.8C662.4,400.9 677.6,396.7 688.0,393.3C696.0,390.7 701.7,387.0 708.7,384.5C715.6,382.1 723.2,378.2 729.7,378.6C735.6,379.0 740.2,383.9 746.1,385.6C752.6,387.4 759.6,388.6 767.1,388.7C775.8,388.9 786.0,387.0 795.1,385.6C803.9,384.2 814.6,383.4 820.8,380.5C825.0,378.5 827.9,376.5 830.2,372.8C833.2,367.8 833.6,360.6 834.8,351.8C836.8,337.3 837.0,312.0 838.3,293.4C839.5,276.3 841.1,261.9 842.2,244.4C843.4,224.4 844.0,201.1 845.0,180.0C846.0,159.6 846.8,135.7 848.0,120.0C848.8,109.9 849.4,101.9 850.5,95.0C851.3,90.0 852.1,82.2 853.3,82.2C854.6,82.2 856.0,93.2 858.0,98.0C859.8,102.4 861.2,109.0 864.4,110.0C867.7,111.1 873.5,105.7 877.8,103.3C882.0,100.9 886.8,95.4 890.0,95.6C892.3,95.7 894.2,97.6 895.6,100.0C898.0,104.0 898.0,112.5 898.9,120.0C900.0,129.7 900.5,140.3 901.1,153.3C902.0,171.7 902.2,202.2 903.3,220.0C904.0,232.0 904.9,241.5 906.0,250.0C906.8,256.4 907.8,259.8 908.9,266.7C910.7,277.9 912.7,296.3 915.6,311.0C918.6,325.9 923.4,343.0 926.7,355.6C929.1,365.0 930.3,372.2 933.3,380.0C936.2,387.7 940.8,394.6 944.4,402.2C948.2,410.1 951.3,421.7 955.6,426.7C958.3,429.8 960.6,430.8 964.4,432.2C970.0,434.3 978.7,434.7 986.7,435.6C995.8,436.6 1006.2,436.9 1016.0,437.5"/>
<path stroke="#1F9A9B" d="M88.0,276.7C91.4,275.0 95.3,274.3 98.3,271.7C101.8,268.6 104.5,263.4 106.7,258.3C109.2,252.5 110.4,244.7 111.7,238.3C112.8,232.6 111.5,224.6 114.2,222.0C116.2,220.0 120.4,221.6 123.3,220.8C126.2,220.0 128.5,218.4 131.7,217.0C136.0,215.2 142.1,213.8 146.7,210.8C151.6,207.6 155.9,202.8 160.0,198.3C164.2,193.7 168.5,189.0 171.7,183.3C175.3,177.0 177.9,169.0 180.0,161.7C182.0,154.6 182.9,147.7 184.0,140.0C185.3,131.3 186.0,120.8 187.0,112.0C187.9,104.2 188.5,95.9 189.5,90.0C190.2,86.0 191.0,80.0 191.7,80.0C192.5,80.0 193.3,86.1 194.0,90.0C195.0,95.5 195.8,103.0 196.5,110.0C197.3,117.9 197.8,126.7 198.5,135.0C199.3,143.3 199.8,152.2 201.0,160.0C202.1,167.1 202.9,173.1 205.0,180.0C207.4,188.0 211.1,197.5 215.0,205.0C218.5,211.8 222.8,218.9 226.7,223.3C229.4,226.4 231.8,227.2 234.8,230.0C239.2,234.1 244.5,240.6 250.0,246.0C256.1,251.9 263.0,259.2 270.0,264.0C276.4,268.4 283.1,272.2 290.0,274.4C296.5,276.4 304.5,277.7 310.0,277.0C314.0,276.5 317.0,275.0 320.0,273.0C323.0,271.0 325.8,264.5 328.0,265.0C330.8,265.6 331.2,276.4 334.0,282.0C337.1,288.1 342.7,294.2 346.0,300.0C348.9,305.1 350.4,314.9 353.0,315.0C355.7,315.1 358.7,306.1 362.0,300.0C366.8,291.0 373.7,277.7 378.0,266.0C382.3,254.3 385.3,241.5 388.0,230.0C390.5,219.6 392.5,210.0 394.0,200.0C395.5,190.0 396.0,180.0 397.0,170.0C398.0,160.0 399.2,151.7 400.0,140.0C401.1,123.4 401.5,99.8 402.0,80.0C402.5,60.5 402.7,38.5 403.0,22.0C403.2,9.8 403.3,0.7 403.5,-10.0M435.5,-10.0C435.7,1.3 435.6,10.4 436.0,24.0C436.6,44.3 437.8,76.9 439.0,100.0C440.0,119.4 440.9,136.3 442.3,153.5C443.6,169.6 445.1,185.1 447.0,200.0C448.7,213.9 450.3,227.1 453.0,240.0C455.6,252.4 459.1,264.9 463.0,276.0C466.5,286.0 470.5,297.3 475.0,304.0C478.1,308.6 481.6,311.5 485.0,314.0C487.8,316.1 490.4,318.8 493.5,318.7C497.5,318.6 502.7,313.9 506.9,310.1C511.8,305.6 516.4,292.1 520.4,292.5C524.6,292.9 525.9,309.5 531.4,313.8C536.4,317.8 544.3,318.8 550.9,318.7C557.7,318.6 565.8,311.2 571.7,312.5C577.1,313.7 580.6,320.1 585.2,324.8C590.7,330.4 595.4,339.4 602.3,344.3C609.3,349.2 618.4,352.2 626.8,354.1C635.1,356.0 643.3,356.3 652.5,355.8C663.4,355.2 678.0,352.8 688.0,349.2C696.1,346.3 701.6,340.9 708.7,337.7C715.5,334.6 723.5,329.8 729.7,330.3C734.9,330.7 738.4,335.9 743.7,337.7C749.8,339.8 757.0,341.0 764.7,341.2C773.9,341.4 785.4,339.3 795.1,337.7C804.1,336.2 814.7,335.5 820.8,331.9C825.3,329.3 827.9,326.2 830.2,321.4C833.4,314.6 833.6,302.3 834.8,293.4C835.9,285.3 836.4,278.0 837.2,270.0C838.1,261.7 839.2,254.1 840.0,244.4C841.0,231.6 841.6,217.0 842.2,200.0C843.0,177.2 843.5,147.9 844.0,120.0C844.6,89.5 845.1,47.9 845.5,24.0C845.7,9.8 845.8,1.3 846.0,-10.0M904.0,-10.0C904.3,1.3 904.6,9.8 905.0,24.0C905.6,47.9 906.3,89.5 907.0,120.0C907.6,147.9 906.9,177.3 908.9,200.0C910.4,217.0 913.0,229.6 915.6,244.4C918.2,259.3 920.6,274.6 924.4,288.9C928.1,302.7 933.4,315.2 937.8,328.9C942.4,343.3 946.6,362.0 951.1,373.3C954.0,380.7 955.6,387.4 960.0,391.1C964.0,394.4 969.1,394.4 975.6,395.6C985.9,397.6 1002.5,398.2 1016.0,399.5"/>
<path stroke="#A8681E" d="M88.0,225.8C91.4,224.4 95.5,224.0 98.3,221.7C101.2,219.3 103.2,215.8 105.0,211.7C107.4,206.3 108.7,198.4 110.0,191.7C111.2,185.1 111.4,177.1 112.5,171.7C113.2,168.0 113.2,164.3 115.0,162.5C116.6,160.9 119.6,161.3 122.0,160.5C124.6,159.6 127.6,157.7 130.0,157.5C131.8,157.3 133.0,158.7 135.0,158.3C138.5,157.6 143.9,153.8 148.3,150.5C153.4,146.8 159.3,142.4 163.3,136.7C167.8,130.3 170.3,121.4 173.3,113.3C176.5,104.8 179.6,96.4 181.7,86.7C184.1,75.6 184.8,61.2 186.0,50.0C187.0,40.6 187.9,33.3 188.5,24.0C189.2,13.4 189.2,1.3 189.5,-10.0M194.5,-10.0C194.8,1.3 194.8,11.0 195.5,24.0C196.4,41.7 197.3,68.7 200.0,86.7C202.1,100.6 204.8,112.6 208.3,123.3C211.2,132.1 215.1,139.2 218.3,146.7C221.2,153.6 223.5,161.4 226.7,166.7C229.2,170.8 232.7,174.3 234.8,176.7C236.1,178.1 236.6,178.5 238.0,180.0C240.8,183.0 245.3,189.2 250.0,194.0C255.7,199.8 263.1,206.7 270.0,212.0C276.5,217.0 283.1,222.2 290.0,225.0C296.4,227.6 304.5,229.5 310.0,229.0C314.0,228.6 317.0,227.0 320.0,225.0C323.1,222.9 325.8,215.9 328.0,216.4C330.8,217.0 331.5,227.6 334.0,234.0C337.2,241.9 342.6,252.4 346.0,260.0C348.7,266.0 350.4,275.9 353.0,276.0C355.7,276.1 358.8,265.8 362.0,260.0C365.7,253.3 370.4,245.9 374.0,238.0C377.9,229.4 381.2,218.8 384.0,210.0C386.4,202.3 388.5,195.8 390.0,188.0C391.6,179.3 391.9,171.1 393.0,160.0C394.5,143.8 396.8,119.1 398.0,100.0C399.1,82.6 399.5,64.3 400.0,50.0C400.4,39.3 400.8,31.6 401.0,22.0C401.3,11.7 401.3,0.7 401.5,-10.0M437.0,-10.0C437.7,0.0 438.3,8.0 439.0,20.0C440.0,37.8 440.5,65.5 442.3,86.7C443.9,106.1 446.6,124.9 449.0,142.4C451.1,158.1 453.5,173.2 455.6,186.9C457.4,198.8 458.2,209.8 461.0,220.0C463.5,229.3 467.4,238.2 471.0,246.0C474.1,252.7 476.9,259.6 481.0,264.0C484.4,267.6 488.9,271.8 493.0,271.6C497.5,271.4 503.5,265.1 506.9,261.2C509.8,257.8 510.9,253.4 513.0,250.0C514.9,246.9 516.9,241.8 519.1,241.6C521.4,241.4 524.3,245.6 526.5,248.9C529.6,253.6 529.4,264.7 533.8,268.5C537.8,272.0 545.1,272.7 550.9,272.2C557.3,271.6 565.2,263.5 570.5,264.1C574.5,264.5 577.3,267.8 580.3,270.9C584.0,274.6 586.1,280.7 590.1,285.6C594.8,291.3 600.8,298.5 607.2,302.8C613.2,306.9 619.7,309.5 626.8,311.3C634.6,313.3 645.4,314.7 652.5,313.8C657.8,313.1 660.8,310.4 665.9,308.9C672.3,307.0 680.9,306.6 688.0,304.0C695.2,301.4 701.7,296.8 708.7,293.4C715.6,290.0 723.5,283.1 729.7,283.5C734.9,283.8 738.2,290.1 743.7,292.2C750.3,294.7 758.9,296.1 767.1,296.2C776.0,296.3 786.0,293.7 795.1,292.2C803.9,290.8 814.6,290.5 820.8,287.5C825.1,285.4 828.0,282.4 830.2,279.3C832.1,276.5 832.7,273.9 833.7,270.0C835.2,263.7 835.7,253.5 836.7,244.4C837.8,234.0 838.8,219.1 840.0,211.0C840.7,206.3 841.6,205.0 842.2,200.0C843.4,189.4 843.5,168.1 844.0,150.0C844.6,128.6 845.0,102.0 845.5,80.0C845.9,60.3 846.6,40.4 846.8,24.0C847.0,11.3 846.9,1.3 847.0,-10.0M902.0,-10.0C902.2,1.3 902.1,11.3 902.5,24.0C903.0,40.4 904.1,60.3 905.0,80.0C906.0,102.0 906.6,128.6 908.0,150.0C909.1,168.1 910.0,186.7 912.2,200.0C913.7,209.0 915.6,213.5 917.8,222.2C920.9,234.5 924.5,252.0 928.9,266.7C933.4,281.6 939.7,297.3 944.4,311.0C948.5,322.9 951.3,336.5 955.6,344.4C958.3,349.4 960.2,353.0 964.4,355.6C969.8,358.9 978.7,358.7 986.7,360.0C995.8,361.4 1006.2,362.3 1016.0,363.5"/>
<path stroke="#10C23A" d="M88.0,182.5C92.0,181.9 96.5,182.2 100.0,180.8C103.2,179.5 106.2,177.8 108.3,175.0C110.8,171.7 110.7,163.9 113.3,161.7C115.1,160.2 117.8,160.8 120.0,160.5C122.2,160.2 124.8,160.6 126.7,160.0C128.3,159.5 129.4,157.5 130.8,157.5C132.2,157.5 133.3,159.7 135.0,160.0C137.2,160.4 140.6,159.1 143.3,158.3C146.1,157.5 148.9,156.1 151.7,155.0C154.5,153.9 157.0,153.4 160.0,151.7C164.1,149.4 169.4,145.6 173.3,141.7C177.2,137.8 180.8,133.1 183.3,128.3C185.7,123.6 186.9,118.2 188.3,113.3C189.6,108.8 190.6,100.0 191.7,100.0C192.8,100.0 193.8,108.4 195.0,113.3C196.5,119.3 197.7,127.1 200.0,133.3C202.2,139.2 205.0,145.4 208.3,150.0C211.2,154.0 214.3,157.1 218.3,160.0C222.9,163.3 229.3,166.1 234.8,168.3C239.9,170.3 244.0,171.5 250.0,173.0C258.3,175.1 271.0,178.3 280.0,179.0C287.3,179.5 293.7,178.9 300.0,178.0C305.7,177.2 311.2,175.9 316.0,174.0C320.4,172.3 324.8,167.1 328.0,167.6C330.5,168.0 331.4,172.3 334.0,174.0C337.1,176.0 342.6,176.5 346.0,178.0C348.7,179.2 350.4,182.3 353.0,182.0C356.8,181.6 361.4,174.1 366.0,170.0C371.0,165.5 377.6,161.2 382.0,156.0C386.2,151.1 389.4,146.4 392.0,140.0C395.3,131.8 396.4,121.3 398.0,110.0C400.0,95.5 401.0,75.7 402.0,60.0C402.9,45.9 403.5,32.4 404.0,20.0C404.4,9.3 404.7,-0.0 405.0,-10.0M430.0,-10.0C430.7,3.3 431.2,15.5 432.0,30.0C433.0,47.3 433.5,70.3 435.6,86.7C437.3,99.4 440.1,109.0 442.3,120.1C444.5,131.2 446.3,142.8 449.0,153.5C451.5,163.5 454.1,174.1 457.9,182.4C461.0,189.3 464.5,195.2 469.0,200.2C473.4,205.1 479.1,210.0 484.6,212.4C489.4,214.5 495.1,215.2 499.8,214.7C504.0,214.2 507.9,211.7 511.3,210.2C514.1,209.0 516.2,206.2 519.0,206.6C522.9,207.2 527.2,215.7 532.0,218.0C536.5,220.1 542.1,219.9 546.9,220.5C551.4,221.0 555.7,221.5 560.0,221.3C564.1,221.1 568.4,219.2 572.0,219.6C575.0,219.9 577.3,221.1 580.0,222.5C583.3,224.2 585.8,227.1 590.1,229.4C596.3,232.7 605.4,237.0 614.6,239.1C625.4,241.6 639.1,242.1 651.3,242.1C663.5,242.1 676.2,240.7 688.0,239.1C699.1,237.6 712.5,234.2 720.0,233.0C724.1,232.3 725.9,231.5 729.4,231.7C734.2,232.0 739.0,235.1 745.9,235.9C757.0,237.2 776.2,235.9 789.8,235.3C801.6,234.7 815.1,236.0 822.8,232.6C828.0,230.3 831.1,227.3 833.8,222.1C838.1,213.7 837.9,196.1 839.3,183.7C840.6,172.1 841.1,161.7 842.0,150.0C843.0,137.2 843.7,122.4 845.0,110.0C846.1,99.3 847.0,87.2 849.0,80.0C850.2,75.7 851.7,70.1 853.3,70.0C854.7,69.9 856.1,75.5 858.0,78.0C860.1,80.7 862.5,84.9 865.6,85.6C869.0,86.3 873.6,82.5 877.8,81.1C882.1,79.7 887.7,76.8 891.1,77.3C893.5,77.7 895.2,78.8 896.7,81.1C899.7,85.9 899.9,99.2 901.1,108.9C902.5,119.5 903.1,131.1 904.4,142.2C905.7,153.3 907.3,165.4 908.9,175.6C910.3,184.4 911.0,193.2 913.3,200.0C915.1,205.2 917.0,208.3 920.0,213.3C924.3,220.4 932.0,230.1 937.8,237.8C943.1,244.8 948.1,253.5 953.3,257.8C957.0,260.8 959.9,262.0 964.4,263.3C970.4,265.1 978.7,265.2 986.7,266.0C995.8,266.9 1006.2,267.3 1016.0,268.0"/>
<path stroke="#B81A78" d="M88.0,152.5C92.6,151.9 97.9,152.5 101.7,150.8C105.1,149.2 107.7,145.8 110.0,143.3C112.0,141.1 112.9,138.0 115.0,136.7C117.0,135.5 119.6,135.9 122.0,135.5C124.6,135.1 127.7,134.4 130.0,134.5C131.9,134.6 132.9,135.6 135.0,135.5C139.0,135.3 146.2,132.8 151.7,130.8C157.3,128.8 163.1,126.0 168.3,123.3C173.1,120.7 178.3,118.5 181.7,115.0C184.8,111.7 186.3,106.8 188.3,103.3C189.9,100.5 191.2,95.7 192.5,95.8C194.0,95.9 195.3,101.6 196.7,105.0C198.4,109.0 199.2,114.4 201.7,118.3C204.2,122.2 207.7,125.6 211.7,128.3C216.0,131.2 222.4,133.5 226.7,135.0C229.8,136.1 231.7,136.3 234.8,137.0C239.1,137.9 244.1,139.2 250.0,140.0C258.3,141.1 270.0,142.5 280.0,142.4C290.0,142.3 301.3,141.1 310.0,139.6C316.8,138.4 323.7,134.5 328.0,135.0C330.6,135.3 331.6,137.1 334.0,138.0C337.3,139.2 342.7,139.7 346.0,141.0C348.5,142.0 349.9,144.3 352.4,144.4C356.1,144.5 361.4,140.5 366.0,138.0C371.2,135.2 377.4,132.4 382.0,128.0C386.9,123.3 391.0,116.4 394.0,110.0C397.0,103.7 398.4,97.9 400.0,90.0C402.2,79.0 403.0,62.4 404.0,50.0C404.9,39.3 405.5,30.0 406.0,20.0C406.5,10.0 406.7,-0.0 407.0,-10.0M429.0,-10.0C429.3,-0.0 429.4,10.8 430.0,20.0C430.5,28.0 431.3,33.5 432.3,42.2C433.7,54.5 435.1,73.0 437.8,86.7C440.1,98.7 442.7,110.9 446.7,120.1C449.8,127.2 453.4,132.8 457.9,137.9C462.3,142.8 467.8,146.9 473.4,150.1C478.9,153.2 485.6,155.8 491.2,156.8C495.9,157.7 500.8,157.5 504.6,156.8C507.5,156.3 509.6,154.8 512.0,154.0C514.2,153.3 516.2,152.1 518.5,152.2C521.1,152.4 523.7,154.5 526.8,155.7C530.7,157.2 535.3,159.3 540.2,160.2C545.6,161.3 552.5,161.6 558.0,161.3C562.8,161.0 567.4,158.8 571.3,159.0C574.5,159.1 576.6,160.2 580.0,161.3C584.9,162.9 590.3,166.8 597.5,168.5C608.2,171.0 624.0,171.3 638.7,171.3C655.7,171.2 677.3,168.6 693.7,167.2C706.9,166.1 718.3,163.7 729.4,163.9C739.2,164.0 746.5,166.9 756.9,167.2C770.4,167.6 790.9,165.3 803.6,164.4C812.4,163.8 820.8,164.3 826.0,162.5C829.2,161.4 831.3,160.2 833.0,158.0C834.9,155.5 835.5,152.4 836.5,148.0C838.3,140.3 839.1,124.2 840.7,115.0C841.8,108.3 843.2,104.2 844.4,97.8C845.9,89.9 846.9,77.6 848.9,71.0C850.2,66.9 851.5,61.7 853.4,61.3C855.2,61.0 857.6,66.5 860.0,67.8C862.1,68.9 864.2,69.3 866.7,69.3C869.9,69.3 873.9,67.4 877.8,66.7C882.0,65.9 887.7,64.3 891.1,64.9C893.4,65.3 895.2,65.9 896.7,67.8C899.3,71.2 899.8,80.1 901.1,86.7C902.4,93.8 902.9,102.2 904.4,108.9C905.6,114.6 907.0,118.8 908.9,124.4C911.2,131.2 913.9,140.2 917.8,146.7C921.4,152.7 925.4,157.3 931.1,162.2C938.1,168.2 949.5,176.0 957.8,178.9C964.1,181.1 968.5,180.6 975.6,181.1C986.3,181.9 1002.5,181.9 1016.0,182.3"/>
<path stroke="#2DC2CE" d="M88.0,106.3C92.6,105.5 98.1,105.6 101.7,104.0C104.5,102.8 106.5,101.0 108.3,99.0C110.1,96.9 110.9,93.4 112.5,91.7C113.8,90.4 115.0,89.6 116.7,89.0C118.9,88.3 122.6,88.9 125.0,88.5C126.9,88.2 128.3,87.3 130.0,87.3C131.7,87.3 132.8,88.7 135.0,88.7C138.9,88.7 146.2,86.0 151.7,84.0C157.3,82.0 163.2,79.4 168.3,76.7C173.1,74.2 178.6,71.7 181.7,68.3C184.3,65.4 185.0,61.8 186.7,58.3C188.6,54.4 190.8,45.7 192.5,45.8C194.1,45.9 195.2,54.1 196.7,58.3C198.3,62.7 199.3,68.0 201.7,71.7C203.9,75.1 207.2,77.5 210.0,80.0C212.7,82.4 214.9,84.8 218.3,86.7C222.7,89.2 229.4,91.1 234.8,92.5C239.9,93.8 244.1,94.2 250.0,95.0C258.3,96.2 270.0,98.1 280.0,98.4C290.0,98.7 301.4,98.2 310.0,96.6C316.8,95.3 323.7,90.4 328.0,91.0C330.7,91.4 331.5,93.8 334.0,95.0C337.6,96.7 344.4,97.5 348.0,99.0C350.5,100.0 351.5,102.2 354.0,102.4C357.6,102.6 363.3,99.3 367.8,96.8C372.7,94.1 378.0,90.1 382.3,86.7C386.0,83.8 389.7,81.2 392.3,77.8C394.8,74.5 396.6,70.7 397.8,66.7C399.1,62.6 399.0,58.1 399.5,53.4C400.1,48.2 400.7,42.0 401.2,36.7C401.6,32.0 402.0,29.0 402.3,23.3C402.8,13.0 402.8,-5.6 403.0,-20.0M428.0,-20.0C428.5,-10.0 429.0,0.5 429.5,10.0C430.0,18.7 430.3,27.3 431.0,35.0C431.6,41.6 432.0,47.0 433.4,53.4C434.9,60.5 437.6,68.9 440.0,75.6C442.1,81.3 443.8,86.3 446.7,91.2C449.7,96.3 453.4,101.8 457.9,105.7C462.3,109.6 467.9,112.4 473.4,114.6C479.0,116.8 485.7,118.6 491.2,119.0C495.9,119.4 500.7,119.0 504.6,117.9C508.0,116.9 510.7,114.3 513.5,113.4C515.8,112.6 518.0,112.0 520.2,112.3C522.5,112.7 524.4,114.5 526.8,115.7C529.5,117.1 531.9,119.1 535.7,120.1C541.3,121.6 551.5,121.6 558.0,121.2C563.0,120.9 567.4,118.8 571.3,119.0C574.5,119.1 576.6,120.2 580.0,121.2C584.9,122.7 589.9,125.7 597.5,127.3C610.6,130.1 635.4,132.0 652.4,132.0C667.1,132.0 680.4,130.0 693.7,128.7C706.0,127.5 718.3,124.7 729.4,124.6C739.2,124.5 747.3,127.0 756.9,127.3C767.4,127.6 778.4,126.6 789.8,126.0C802.1,125.4 820.9,126.8 828.3,123.8C831.9,122.3 833.3,120.8 835.2,117.7C838.1,112.9 839.1,102.9 840.7,95.7C842.2,88.7 843.3,82.6 844.4,75.0C845.8,65.9 846.9,54.2 848.0,45.0C849.0,37.0 849.8,28.9 850.7,22.8C851.3,18.6 851.4,12.2 852.5,12.0C853.4,11.8 854.7,16.1 856.0,18.0C857.2,19.8 858.4,21.7 860.0,23.0C861.6,24.3 863.7,25.8 865.6,25.8C867.7,25.9 869.6,23.8 872.0,23.0C874.9,22.1 879.4,22.8 882.0,21.0C884.7,19.2 885.7,13.2 888.0,12.0C889.5,11.2 891.6,11.1 893.0,12.0C895.1,13.4 895.9,18.3 897.0,22.8C898.8,29.7 899.5,41.1 901.0,50.0C902.4,58.5 903.9,66.9 905.6,75.0C907.2,82.8 908.3,91.1 911.0,97.8C913.3,103.7 916.0,108.4 920.0,113.3C924.6,118.9 931.5,124.1 937.8,128.9C944.1,133.7 951.0,139.7 957.8,142.2C963.7,144.4 968.5,143.8 975.6,144.4C986.3,145.3 1002.5,145.7 1016.0,146.3"/>
</g>
<rect x="85" y="21.5" width="931.3" height="752.3" fill="none" stroke="#000" stroke-width="5.7" stroke-linejoin="round"/>
<path d="M292.1,773L292.1,759.2M499.3,773L499.3,759.2M706.5,773L706.5,759.2M912.6,773L912.6,759.2M188.7,773L188.7,767.5M395.9,773L395.9,767.5M602.8,773L602.8,767.5M808.6,773L808.6,767.5" stroke="#000" stroke-width="5.6" stroke-linecap="round" fill="none"/>
<path d="M380.1,30.3L354.5,71.5" stroke="#000" stroke-width="4.3" stroke-linecap="round" fill="none"/>
<path d="M344.4,89.6L349.8,70.6L359.9,76.0Z" fill="#000" stroke="#000" stroke-width="2" stroke-linejoin="round"/>
<text transform="translate(85.2,827.0) scale(1,1.027)" font-family="Liberation Sans" font-weight="bold" font-size="47.5" text-anchor="middle">200</text>
<text transform="translate(290.8,827.0) scale(1,1.027)" font-family="Liberation Sans" font-weight="bold" font-size="47.5" text-anchor="middle">400</text>
<text transform="translate(499.1,827.0) scale(1,1.027)" font-family="Liberation Sans" font-weight="bold" font-size="47.5" text-anchor="middle">600</text>
<text transform="translate(706.4,827.0) scale(1,1.027)" font-family="Liberation Sans" font-weight="bold" font-size="47.5" text-anchor="middle">800</text>
<text transform="translate(887.0,827.0) scale(1,1.027)" font-family="Liberation Sans" font-weight="bold" font-size="47.5">000</text>
<path d="M874.1,793L879.4,793L879.4,826.8L872.7,826.8L872.7,803.2L864.1,807.6L864.1,801.2Q870.5,798.3 874.1,793Z" fill="#000"/>
<text transform="translate(345.2,890.6) scale(1.000,1.030)" font-family="Liberation Sans" font-weight="bold" font-size="46.6" >Raman Shift</text>
<text x="630.3" y="892.8" font-family="Liberation Sans" font-weight="bold" font-size="42.0" >(</text>
<text transform="translate(643.2,890.6) scale(1.000,1.030)" font-family="Liberation Sans" font-weight="bold" font-size="47.2" >cm</text>
<text x="711.4" y="871.6" font-family="Liberation Sans" font-weight="bold" font-size="46.8" >-</text>
<path d="M737,837.7L744.9,837.7L744.9,871.4L737.6,871.4L737.6,847.6L729.5,852.6L729.5,846.2Z" fill="#000"/>
<text x="753.7" y="893.2" font-family="Liberation Sans" font-weight="bold" font-size="42.0" >)</text>
<text transform="translate(47.6,790.6) rotate(-90) scale(1,1.04)" font-family="Liberation Sans" font-weight="bold" font-size="64.7">Scatt. Intensity (arb.units)</text>
<text x="202.4" y="62.4" font-family="Liberation Sans" font-weight="bold" font-size="39.5" style="stroke-width:0.9px">Si</text>
<text x="445.3" y="73.8" font-family="Liberation Sans" font-weight="bold" font-size="39.5" style="stroke-width:0.9px">Si</text>
<text x="497.9" y="100.8" font-family="Liberation Sans" font-weight="bold" font-size="39.5" style="stroke-width:0.9px">Si</text>
<text x="552.0" y="105.6" font-family="Liberation Sans" font-weight="bold" font-size="39.5" style="stroke-width:0.9px">Si</text>
<text x="911.2" y="60.7" font-family="Liberation Sans" font-weight="bold" font-size="39.5" style="stroke-width:0.9px">Si</text>
<text transform="translate(264.3,661.8) scale(1.000,1.030)" font-family="Liberation Sans" font-weight="bold" font-size="29.0" >ZnO</text>
<text transform="translate(264.3,686.7) scale(1.000,1.030)" font-family="Liberation Sans" font-weight="bold" font-size="28.5" >E</text>
<text x="283.0" y="696.5" font-family="Liberation Sans" font-weight="bold" font-size="19.5" >2</text>
<text x="300.6" y="686.7" font-family="Liberation Sans" font-weight="bold" font-size="29.4" >high</text>
<text x="759.3" y="155.1" font-family="Liberation Sans" font-weight="bold" font-size="25.3" style="stroke-width:0.6px">Ni900</text>
<text x="760.7" y="211.2" font-family="Liberation Sans" font-weight="bold" font-size="25.3" style="stroke-width:0.6px">Ni800</text>
<text x="757.9" y="278.2" font-family="Liberation Sans" font-weight="bold" font-size="25.3" style="stroke-width:0.6px">Ni700</text>
<text x="719.7" y="326.2" font-family="Liberation Sans" font-weight="bold" font-size="25.3" style="stroke-width:0.6px">60NZ900</text>
<text x="711.5" y="370.5" font-family="Liberation Sans" font-weight="bold" font-size="25.3" style="stroke-width:0.6px">60NZ800</text>
<text x="705.5" y="413.8" font-family="Liberation Sans" font-weight="bold" font-size="25.3" style="stroke-width:0.6px">40NZ900</text>
<text x="705.5" y="452.3" font-family="Liberation Sans" font-weight="bold" font-size="25.3" style="stroke-width:0.6px">40NZ800</text>
<text x="717.0" y="488.2" font-family="Liberation Sans" font-weight="bold" font-size="25.3" style="stroke-width:0.6px">40NZ700</text>
<text x="725.8" y="517.9" font-family="Liberation Sans" font-weight="bold" font-size="25.3" style="stroke-width:0.6px">20NZ900</text>
<text x="732.9" y="552.6" font-family="Liberation Sans" font-weight="bold" font-size="25.3" style="stroke-width:0.6px">20NZ800</text>
<text x="731.1" y="585.7" font-family="Liberation Sans" font-weight="bold" font-size="25.3" style="stroke-width:0.6px">20NZ700</text>
<text x="739.4" y="619.0" font-family="Liberation Sans" font-weight="bold" font-size="25.3" style="stroke-width:0.6px">5NZ900</text>
<text x="742.3" y="644.5" font-family="Liberation Sans" font-weight="bold" font-size="25.3" style="stroke-width:0.6px">5NZ800</text>
<text x="743.2" y="677.6" font-family="Liberation Sans" font-weight="bold" font-size="25.3" style="stroke-width:0.6px">5NZ700</text>
<text x="752.7" y="718.3" font-family="Liberation Sans" font-weight="bold" font-size="25.3" style="stroke-width:0.6px">Zn900</text>
<text x="754.5" y="763.7" font-family="Liberation Sans" font-weight="bold" font-size="25.3" style="stroke-width:0.6px">Zn700</text>
</svg></body></html>
